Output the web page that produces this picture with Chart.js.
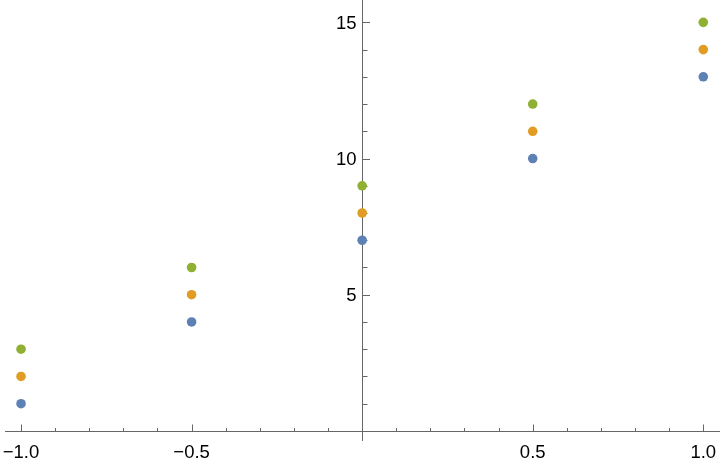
<!DOCTYPE html>
<html>
<head>
<meta charset="utf-8">
<script src="https://cdn.jsdelivr.net/npm/chart.js@4"></script>
<style>
  html, body { margin: 0; padding: 0; background: #ffffff; }
  #c { display: block; }
</style>
</head>
<body>
<canvas id="c" width="720" height="466"></canvas>
<script>
// ---- data ----
const xValues = [-1, -0.5, 0, 0.5, 1];
const seriesBlue = [1, 4, 7, 10, 13];
const seriesOrange = [2, 5, 8, 11, 14];
const seriesGreen = [3, 6, 9, 12, 15];

// ---- ticks ----
const xMajorTicks = [-1, -0.5, 0.5, 1];
const xTickLabels = ['\u22121.0', '\u22120.5', '0.5', '1.0'];
const xMinorTicks = [-0.9, -0.8, -0.7, -0.6, -0.4, -0.3, -0.2, -0.1, 0.1, 0.2, 0.3, 0.4, 0.6, 0.7, 0.8, 0.9];
const yMajorTicks = [5, 10, 15];
const yTickLabels = ['5', '10', '15'];
const yMinorTicks = [1, 2, 3, 4, 6, 7, 8, 9, 11, 12, 13, 14];

const toPoints = (ys) => xValues.map((x, i) => ({ x: x, y: ys[i] }));

const AXIS_COLOR = '#666666';
const FONT = '18.5px "Liberation Sans", Arial, sans-serif';

const axesPlugin = {
  id: 'mmaAxes',
  beforeDatasetsDraw(chart) {
    const ctx = chart.ctx;
    const xs = chart.scales.x, ys = chart.scales.y;
    const area = chart.chartArea;
    const x0 = Math.round(xs.getPixelForValue(0)) + 0.5;
    const y0 = Math.round(ys.getPixelForValue(0)) + 0.5;
    ctx.save();
    ctx.strokeStyle = AXIS_COLOR;
    ctx.lineWidth = 1;
    ctx.beginPath();
    // x axis
    ctx.moveTo(area.left, y0); ctx.lineTo(area.right, y0);
    // y axis
    ctx.moveTo(x0, area.top); ctx.lineTo(x0, area.bottom);
    // x ticks
    xMajorTicks.forEach(v => {
      const p = Math.round(xs.getPixelForValue(v)) + 0.5;
      ctx.moveTo(p, y0); ctx.lineTo(p, y0 - 7);
    });
    xMinorTicks.forEach(v => {
      const p = Math.round(xs.getPixelForValue(v)) + 0.5;
      ctx.moveTo(p, y0); ctx.lineTo(p, y0 - 3.5);
    });
    // y ticks
    yMajorTicks.forEach(v => {
      const p = Math.round(ys.getPixelForValue(v)) + 0.5;
      ctx.moveTo(x0, p); ctx.lineTo(x0 + 7.5, p);
    });
    yMinorTicks.forEach(v => {
      const p = Math.round(ys.getPixelForValue(v)) + 0.5;
      ctx.moveTo(x0, p); ctx.lineTo(x0 + 5, p);
    });
    ctx.stroke();

    // labels
    ctx.fillStyle = '#000000';
    ctx.font = FONT;
    ctx.textBaseline = 'alphabetic';
    ctx.textAlign = 'center';
    xMajorTicks.forEach((v, i) => {
      ctx.fillText(xTickLabels[i], xs.getPixelForValue(v), y0 + 26);
    });
    ctx.textAlign = 'right';
    yMajorTicks.forEach((v, i) => {
      ctx.fillText(yTickLabels[i], x0 - 6, ys.getPixelForValue(v) + 6.6);
    });
    ctx.restore();
  }
};

const mk = (label, data, color) => ({
  label: label,
  data: toPoints(data),
  backgroundColor: color,
  borderColor: color,
  borderWidth: 0,
  pointRadius: 4.8,
  pointHoverRadius: 4.8,
  showLine: false
});

new Chart(document.getElementById('c'), {
  type: 'scatter',
  data: {
    datasets: [
      mk('Series 1', seriesBlue, '#5E81B5'),
      mk('Series 2', seriesOrange, '#E19C24'),
      mk('Series 3', seriesGreen, '#8FB032')
    ]
  },
  options: {
    responsive: false,
    animation: false,
    devicePixelRatio: 1,
    layout: { autoPadding: false, padding: { left: 5, right: 0, top: 0, bottom: 25 } },
    plugins: { legend: { display: false }, tooltip: { enabled: false } },
    scales: {
      x: { type: 'linear', min: -1.047, max: 1.049, display: false },
      y: { type: 'linear', min: -0.37, max: 15.82, display: false }
    }
  },
  plugins: [axesPlugin]
});
</script>
</body>
</html>
